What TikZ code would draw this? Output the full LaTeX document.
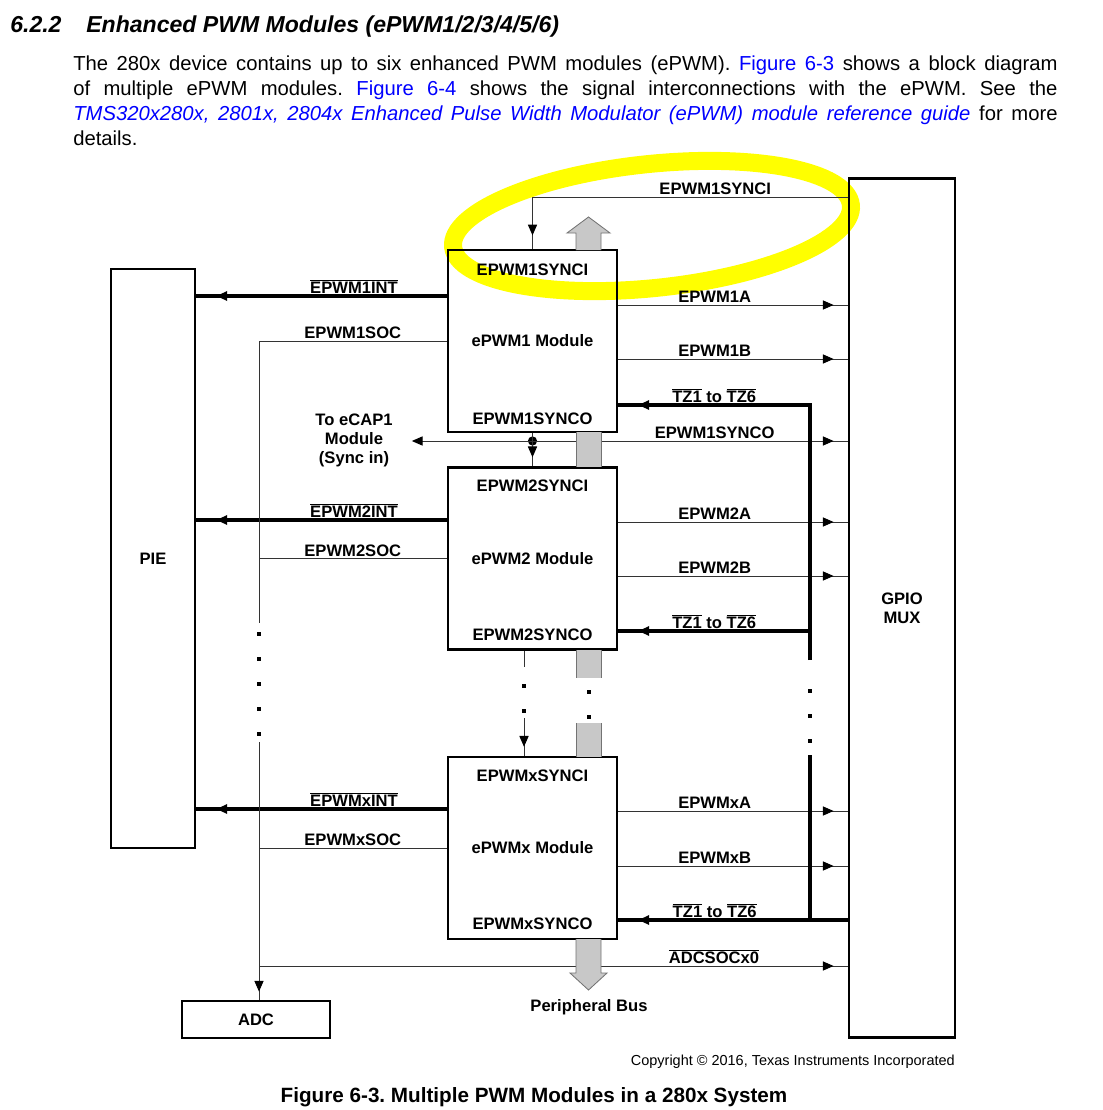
\documentclass[tikz,border=0pt]{standalone}
\usepackage{fontspec}
\setmainfont{Liberation Sans}
\usepackage{tikz}
\usetikzlibrary{arrows.meta, positioning, calc, decorations.markings}

\definecolor{linkblue}{RGB}{0,0,255}
\definecolor{busgray}{RGB}{200,200,200}
\definecolor{hiyellow}{RGB}{255,255,0}

\newcommand{\ovl}[1]{$\overline{\mbox{#1}}$}

\tikzset{tri/.tip={Triangle[length=0.27cm, width=0.23cm]}}
\frenchspacing

\begin{document}
\begin{tikzpicture}[x=0.025cm, y=-0.025cm,
    lbl/.style={font=\fontsize{11.8}{13.5}\selectfont\bfseries, inner sep=0pt, align=center},
    sl/.style={lbl, anchor=base, yshift=1.6pt},
    blk/.style={draw, line width=2pt, font=\fontsize{11.8}{13.5}\selectfont\bfseries, align=center, inner sep=0pt},
    module/.style={blk, minimum width=4.225cm, minimum height=4.55cm},
    para/.style={anchor=base west, inner sep=0pt, font=\fontsize{14.4}{17.8}\selectfont},
    sig/.style={draw=black!80, line width=0.7pt},
    thk/.style={draw=black, line width=2.4pt},
    tipat/.style={postaction={decorate}, decoration={markings, mark=at position -#1 with {\arrow[black]{tri}}}},
    vdots/.style={draw=black, line width=0.1cm, dash pattern=on 0.1cm off 0.525cm},
    busfill/.style={fill=busgray},
    busedge/.style={draw=black!55, line width=0.6pt},
    hilite/.style={draw=hiyellow, line width=0.45cm}
]
    \fill[white] (0,0) rectangle (1103,1110);
    \useasboundingbox (0,0) rectangle (1103,1110);

    % Heading and text
    \node[anchor=base west, inner sep=0pt, font=\fontsize{16.4}{19}\selectfont\bfseries\itshape] (secno) at (10,33) {6.2.2};
    \node[anchor=base west, inner sep=0pt, font=\fontsize{16.4}{19}\selectfont\bfseries\itshape] (sectitle) at (86,33) {Enhanced PWM Modules (ePWM1/2/3/4/5/6)};
    \node[para] (par1) at (73,71) {\makebox[24.6cm][s]{The 280x device contains up to six enhanced PWM modules (ePWM). {\color{linkblue}Figure 6-3} shows a block diagram}};
    \node[para] (par2) at (73,96) {\makebox[24.6cm][s]{of multiple ePWM modules. {\color{linkblue}Figure 6-4} shows the signal interconnections with the ePWM. See the}};
    \node[para] (par3) at (73,121) {\makebox[24.6cm][s]{{\color{linkblue}\itshape TMS320x280x, 2801x, 2804x Enhanced Pulse Width Modulator (ePWM) module reference guide} for more}};
    \node[para] (par4) at (73,146) {details.};

    % Highlight
    \draw[hilite, rotate around={6:(652,226)}] (652,226) ellipse [x radius=200, y radius=62];

    % Blocks
    \node[blk, minimum width=2.65cm, minimum height=21.45cm] (gpio) at (902,608) {GPIO\\MUX};
    \node[blk, minimum width=2.1cm, minimum height=14.475cm] (pie) at (153,558.5) {PIE};
    \node[blk, minimum width=3.7cm, minimum height=0.925cm] (adc) at (256,1019.5) {ADC};
    \node[module] (m1) at (532.5,341) {ePWM1 Module};
    \node[module] (m2) at (532.5,558.5) {ePWM2 Module};
    \node[module] (mx) at (532.5,848) {ePWMx Module};

    \node[lbl] (m1i) at ($(m1.north)+(0,21)$) {EPWM1SYNCI};
    \node[lbl] (m1o) at ($(m1.south)+(0,-15)$) {EPWM1SYNCO};
    \node[lbl] (m2i) at ($(m2.north)+(0,20)$) {EPWM2SYNCI};
    \node[lbl] (m2o) at ($(m2.south)+(0,-16)$) {EPWM2SYNCO};
    \node[lbl] (mxi) at ($(mx.north)+(0,20)$) {EPWMxSYNCI};
    \node[lbl] (mxo) at ($(mx.south)+(0,-17)$) {EPWMxSYNCO};

    \node[lbl] (ecap) at (354,440) {To eCAP1\\Module\\(Sync in)};
    \node[lbl] (pbus) at (589,1007) {Peripheral Bus};

    \coordinate (ecapin) at ([xshift=13.5pt]ecap.east);
    \coordinate (soc1) at (259,341);
    \coordinate (soc2) at (259,623);
    \coordinate (soc3) at (259,742);
    \coordinate (tz1) at (810,405);
    \coordinate (tz2) at (810,660);
    \coordinate (tz3) at (810,755);
    \coordinate (s2) at (524,667);
    \coordinate (s3) at (524,718);
    \node[circle, fill=black, inner sep=0pt, minimum size=0.23cm] (d1) at (m1.south |- 0,441) {};

    % Sync chain
    \draw[sig, tipat=0.33cm] (gpio.west |- 0,197) -- node[sl, pos=0.42] {EPWM1SYNCI} (m1.north |- 0,197) -- (m1.north);
    \draw[sig, tipat=0.22cm] (m1.south) -- (m2.north);
    \draw[sig, {tri[black]}-, tipat=0.35cm] (ecapin |- d1) -- node[sl, pos=0.695] {EPWM1SYNCO} (gpio.west |- d1);
    \draw[sig] (m2.south -| s2) -- (s2);
    \draw[vdots] (524,684) -- (524,713);
    \draw[sig, tipat=0.22cm] (s3) -- (s3 |- mx.north);

    % Interrupts to PIE
    \draw[thk, tipat=0.5cm] (m1.west |- 0,296) -- node[sl, pos=0.37] {\ovl{EPWM1INT}} (pie.east |- 0,296);
    \draw[thk, tipat=0.5cm] (m2.west |- 0,520) -- node[sl, pos=0.37] {\ovl{EPWM2INT}} (pie.east |- 0,520);
    \draw[thk, tipat=0.5cm] (mx.west |- 0,809) -- node[sl, pos=0.37] {\ovl{EPWMxINT}} (pie.east |- 0,809);

    % SOC to ADC
    \draw[sig] (m1.west) -- node[sl, midway] {EPWM1SOC} (soc1) -- (soc2);
    \draw[sig] (m2.west) -- node[sl, midway] {EPWM2SOC} (m2.west -| soc1);
    \draw[sig] (mx.west) -- node[sl, midway] {EPWMxSOC} (mx.west -| soc1);
    \draw[vdots] (259,632) -- (259,736);
    \draw[sig, tipat=0.2cm] (soc3) -- (soc3 |- adc.north);
    \draw[sig, tipat=0.35cm] (soc3 |- 0,966) -- node[sl, pos=0.773] {\ovl{ADCSOCx0}} (gpio.west |- 0,966);

    % Outputs to GPIO MUX
    \draw[sig, tipat=0.35cm] (m1.east |- 0,305) -- node[sl, pos=0.42] {EPWM1A} (gpio.west |- 0,305);
    \draw[sig, tipat=0.35cm] (m1.east |- 0,359) -- node[sl, pos=0.42] {EPWM1B} (gpio.west |- 0,359);
    \draw[sig, tipat=0.35cm] (m2.east |- 0,522) -- node[sl, pos=0.42] {EPWM2A} (gpio.west |- 0,522);
    \draw[sig, tipat=0.35cm] (m2.east |- 0,576) -- node[sl, pos=0.42] {EPWM2B} (gpio.west |- 0,576);
    \draw[sig, tipat=0.35cm] (mx.east |- 0,811) -- node[sl, pos=0.42] {EPWMxA} (gpio.west |- 0,811);
    \draw[sig, tipat=0.35cm] (mx.east |- 0,866) -- node[sl, pos=0.42] {EPWMxB} (gpio.west |- 0,866);

    % Trip zones back from GPIO MUX
    \draw[thk, tipat=0.5cm] (tz2) -- (tz1) -- node[sl, midway] {\ovl{TZ1} to \ovl{TZ6}} (tz1 -| m1.east);
    \draw[thk, tipat=0.5cm] (tz1 |- 0,631) -- node[sl, midway] {\ovl{TZ1} to \ovl{TZ6}} (m2.east |- 0,631);
    \draw[thk] (tz3) -- (tz3 |- 0,920);
    \draw[thk, tipat=0.5cm] (gpio.west |- 0,920) -- node[sl, pos=0.58] {\ovl{TZ1} to \ovl{TZ6}} (mx.east |- 0,920);
    \draw[vdots] (810,689) -- (810,743);

    % Peripheral bus
    \filldraw[busfill, busedge] (576,250) -- (576,233) -- (567,233) -- (588.5,217) -- (610,233) -- (601,233) -- (601,250);
    \fill[busfill] (576,432) rectangle (601,467);
    \draw[busedge] (576,432) -- (576,467) (601,432) -- (601,467);
    \fill[busfill] (576,650) rectangle (601,678);
    \draw[busedge] (576,650) -- (576,678) (601,650) -- (601,678);
    \draw[vdots] (589,690) -- (589,719);
    \fill[busfill] (576,723) rectangle (601,757);
    \draw[busedge] (576,723) -- (576,757) (601,723) -- (601,757);
    \filldraw[busfill, busedge] (576,939) -- (576,973) -- (570,973) -- (588.5,990) -- (607,973) -- (601,973) -- (601,939);

    % Footer
    \node[anchor=base east, inner sep=0pt, font=\fontsize{10.3}{12}\selectfont] (copy) at (955,1065) {Copyright © 2016, Texas Instruments Incorporated};
    \node[anchor=base, inner sep=0pt, font=\fontsize{14.7}{17}\selectfont\bfseries] (caption) at (534,1102) {Figure 6-3. Multiple PWM Modules in a 280x System};
\end{tikzpicture}
\end{document}
